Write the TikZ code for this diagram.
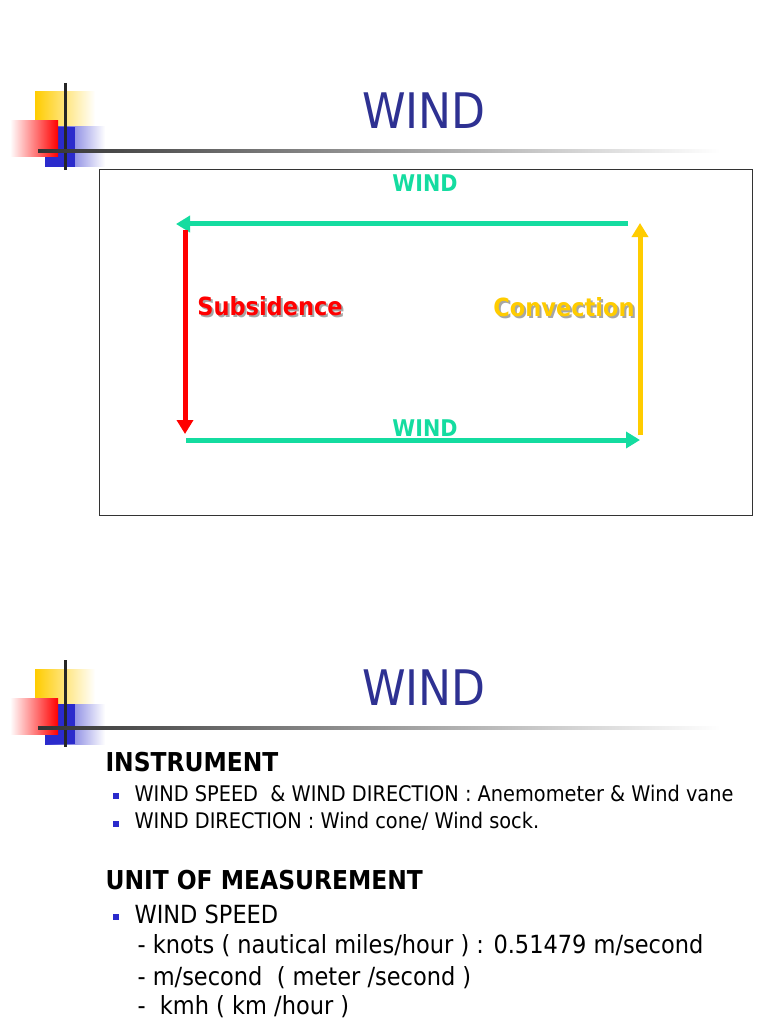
\documentclass[tikz,border=0pt]{standalone}
\usepackage{fontspec}
\setmainfont{DejaVu Sans Condensed}
\usetikzlibrary{arrows.meta}
\definecolor{teal1}{HTML}{14DCA0}
\definecolor{yel}{HTML}{FFCC00}
\definecolor{blu}{HTML}{2B2BCC}
\definecolor{navy}{HTML}{2E3192}
\tikzset{
  flow/.style={line width=5pt,-{Triangle[length=14pt,width=16pt]}},
  lbl/.style={font=\bfseries\fontsize{25}{28}\selectfont},
  lblw/.style={font=\bfseries\fontsize{23}{26}\selectfont},
  title/.style={font=\fontsize{49}{55}\selectfont,text=navy},
  body/.style={anchor=west,font=\fontsize{21.5}{24}\selectfont},
  big/.style={anchor=west,font=\fontsize{25}{30}\selectfont},
  head/.style={anchor=west,font=\bfseries\fontsize{26}{30}\selectfont},
  bul/.style={fill=blu,minimum size=6pt,inner sep=0pt},
}
\newcommand{\logo}[1]{%
  \shade[left color=yel,right color=white] (35,92+#1) rectangle (95,150+#1);
  \shade[left color=blu,right color=white] (45,127+#1) rectangle (105,167+#1);
  \fill[blu] (45,127+#1) rectangle (75,167+#1);
  \shade[left color=white,right color=red] (10,121+#1) rectangle (58,157+#1);
  \draw[line width=3pt,black!85] (65,83+#1) -- (65,170+#1);
  \shade[left color=black!80,right color=white] (38,149.5+#1) rectangle (720,152.5+#1);
}
\begin{document}
\begin{tikzpicture}[x=1pt,y=-1pt]
\useasboundingbox[clip] (0,0) rectangle (768,1024);
\fill[white] (0,0) rectangle (768,1024);
\logo{0}
\node[title] (t1) at (424,111) {WIND};
\draw[black!80] (99,169) rectangle (752,515);
\coordinate (tr) at (628,224); \coordinate (tl) at (176,224);
\coordinate (ls) at (185,230); \coordinate (lb) at (185,434);
\coordinate (bl) at (186,440); \coordinate (br) at (640,440);
\coordinate (rb) at (640,435); \coordinate (rt) at (640,223);
\draw[flow,teal1] (tr) -- (tl);
\draw[flow,red] (ls) -- (lb);
\draw[flow,teal1] (bl) -- (br);
\draw[flow,yel] (rb) -- (rt);
\node[lblw,text=teal1] (w1) at (425,183) {WIND};
\node[lblw,text=teal1] (w2) at (425,428) {WIND};
\node[lbl,text=black!35] at (272,308) {Subsidence};
\node[lbl,text=red] (sub) at (270,306) {Subsidence};
\node[lbl,text=black!35] at (566,309) {Convection};
\node[lbl,text=yel] (con) at (564,307) {Convection};
\logo{577}
\node[title] (t2) at (424,688) {WIND};
\node[head] (h1) at (102,762) {INSTRUMENT};
\node[bul] (b1) at (116,796) {};
\node[body] (l1) at (131,793) {WIND SPEED\ \ \& WIND DIRECTION : Anemometer \& Wind vane};
\node[bul] (b2) at (116,824) {};
\node[body] (l2) at (131,821) {WIND DIRECTION : Wind cone/ Wind sock.};
\node[head] (h2) at (102,880) {UNIT OF MEASUREMENT};
\node[bul] (b3) at (116,917) {};
\node[big] (l3) at (131,914) {WIND SPEED};
\node[big] (l4) at (134,946) {- knots ( nautical miles/hour ) : 0.51479 m/second};
\node[big] (l5) at (134,978) {- m/second\ \ ( meter /second )};
\node[big] (l6) at (134,1007) {-\ \ kmh ( km /hour )};
\end{tikzpicture}
\end{document}
